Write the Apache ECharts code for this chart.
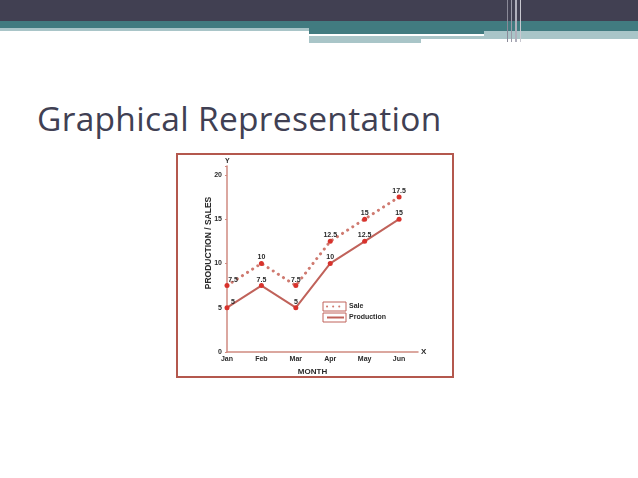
<!DOCTYPE html>
<html>
<head>
<meta charset="utf-8">
<script src="https://cdn.jsdelivr.net/npm/echarts@6/dist/echarts.min.js"></script>
<style>
  body { margin: 0; width: 638px; height: 478px; background: #fff; position: relative; overflow: hidden; font-family: "Open Sans", sans-serif; }
  .bar { position: absolute; }
  #title { position: absolute; left: 37px; top: 95px; font-size: 33.5px; color: #404053; letter-spacing: 0.3px; white-space: nowrap; }
  #box { position: absolute; left: 176px; top: 153px; width: 274px; height: 221px; border: 2px solid #b4584e; background: #fff; }
  #chart { width: 274px; height: 221px; }
</style>
</head>
<body>
<!-- 幻灯片顶部装饰条 -->
<div class="bar" style="left:0;top:0;width:638px;height:21px;background:#414052;"></div>
<div class="bar" style="left:0;top:21px;width:638px;height:7px;background:#417b80;"></div>
<div class="bar" style="left:0;top:28px;width:309px;height:3px;background:#a9c5c8;"></div>
<div class="bar" style="left:309px;top:28px;width:329px;height:6px;background:#417b80;"></div>
<div class="bar" style="left:309px;top:36px;width:175px;height:3px;background:#a9c5c8;"></div>
<div class="bar" style="left:309px;top:39px;width:112px;height:4px;background:#a9c5c8;"></div>
<div class="bar" style="left:484px;top:31px;width:154px;height:8px;background:#a9c5c8;"></div>
<div class="bar" style="left:507px;top:0;width:1px;height:42px;background:#8a8a98;"></div>
<div class="bar" style="left:511px;top:0;width:1px;height:42px;background:#9a9aa8;"></div>
<div class="bar" style="left:515px;top:0;width:2px;height:42px;background:#b0b0bc;"></div>
<div class="bar" style="left:520px;top:0;width:1px;height:42px;background:#c8c8d0;"></div>

<div id="title">Graphical Representation</div>
<div id="box"><div id="chart"></div></div>

<script>
// 数据
const months = ['Jan', 'Feb', 'Mar', 'Apr', 'May', 'Jun'];
const saleValues = [7.5, 10, 7.5, 12.5, 15, 17.5];
const productionValues = [5, 7.5, 5, 10, 12.5, 15];
const yTicks = [0, 5, 10, 15, 20];

const LINE_COLOR = '#c0625a';
const SALE_COLOR = '#cf7a70';
const DOT_COLOR = '#d8322c';
const AXIS_COLOR = '#cf8a80';
const TEXT_COLOR = '#2a2a2a';
const FONT = 'Liberation Sans';

/**
 * 生成折线数据，第一个点的标签向右偏移
 */
function buildData(values) {
    return values.map((v, i) => {
        const item = { value: [i, v] };
        if (i === 0) {
            item.label = { offset: [6, 0] };
        }
        return item;
    });
}

const chart = echarts.init(document.getElementById('chart'));

const labelStyle = {
    show: true,
    position: 'top',
    distance: 0,
    fontSize: 7,
    fontWeight: 'bold',
    fontFamily: FONT,
    color: TEXT_COLOR
};

chart.setOption({
    animation: false,
    grid: { left: 49, top: 11, right: 34, bottom: 24, containLabel: false, outerBoundsMode: 'none' },
    xAxis: {
        type: 'value',
        min: 0,
        max: 5.55,
        interval: 1,
        name: 'MONTH',
        nameLocation: 'middle',
        nameGap: 16,
        nameMoveOverlap: false,
        nameTextStyle: { fontSize: 8, fontWeight: 'bold', fontFamily: FONT, color: TEXT_COLOR, padding: [0, 20, 0, 0] },
        axisLine: { show: true, lineStyle: { color: AXIS_COLOR, width: 1.5 } },
        axisTick: { show: false },
        splitLine: { show: false },
        axisLabel: {
            margin: 4,
            fontSize: 7,
            fontWeight: 'bold',
            fontFamily: FONT,
            color: TEXT_COLOR,
            formatter: v => (Number.isInteger(v) && months[v]) ? months[v] : ''
        }
    },
    yAxis: {
        type: 'value',
        min: 0,
        max: 21,
        interval: 5,
        name: 'PRODUCTION / SALES',
        nameLocation: 'middle',
        nameGap: 14,
        nameMoveOverlap: false,
        nameTextStyle: { fontSize: 8.5, fontWeight: 'bold', fontFamily: FONT, color: TEXT_COLOR, padding: [0, 0, 0, 32] },
        axisLine: { show: true, lineStyle: { color: AXIS_COLOR, width: 1.5 } },
        axisTick: { show: true, length: 2, lineStyle: { color: AXIS_COLOR } },
        splitLine: { show: false },
        axisLabel: {
            margin: 5,
            fontSize: 7,
            fontWeight: 'bold',
            fontFamily: FONT,
            color: TEXT_COLOR,
            formatter: v => yTicks.includes(v) ? String(v) : ''
        }
    },
    legend: {
        orient: 'vertical',
        left: 143,
        top: 143,
        itemWidth: 17,
        itemHeight: 7,
        itemGap: 4,
        itemStyle: { opacity: 0 },
        textStyle: { fontSize: 7, fontWeight: 'bold', fontFamily: FONT, color: TEXT_COLOR },
        data: ['Sale', 'Production']
    },
    graphic: [
        { type: 'text', left: 47, top: 3, style: { text: 'Y', fontSize: 7, fontWeight: 'bold', fontFamily: FONT, fill: TEXT_COLOR } },
        { type: 'text', left: 243, top: 193, style: { text: 'X', fontSize: 8, fontWeight: 'bold', fontFamily: FONT, fill: TEXT_COLOR } },
        { type: 'rect', shape: { x: 145, y: 147, width: 23, height: 9 }, style: { fill: 'none', stroke: LINE_COLOR, lineWidth: 1 } },
        { type: 'rect', shape: { x: 145, y: 158, width: 23, height: 9 }, style: { fill: 'none', stroke: LINE_COLOR, lineWidth: 1 } }
    ],
    series: [
        {
            name: 'Sale',
            type: 'line',
            data: buildData(saleValues),
            symbol: 'circle',
            symbolSize: 5,
            itemStyle: { color: DOT_COLOR },
            lineStyle: { color: SALE_COLOR, width: 3, type: [0.1, 6], cap: 'round' },
            label: labelStyle
        },
        {
            name: 'Production',
            type: 'line',
            data: buildData(productionValues),
            symbol: 'circle',
            symbolSize: 5,
            itemStyle: { color: DOT_COLOR },
            lineStyle: { color: LINE_COLOR, width: 2 },
            label: labelStyle
        }
    ]
});
</script>
</body>
</html>
